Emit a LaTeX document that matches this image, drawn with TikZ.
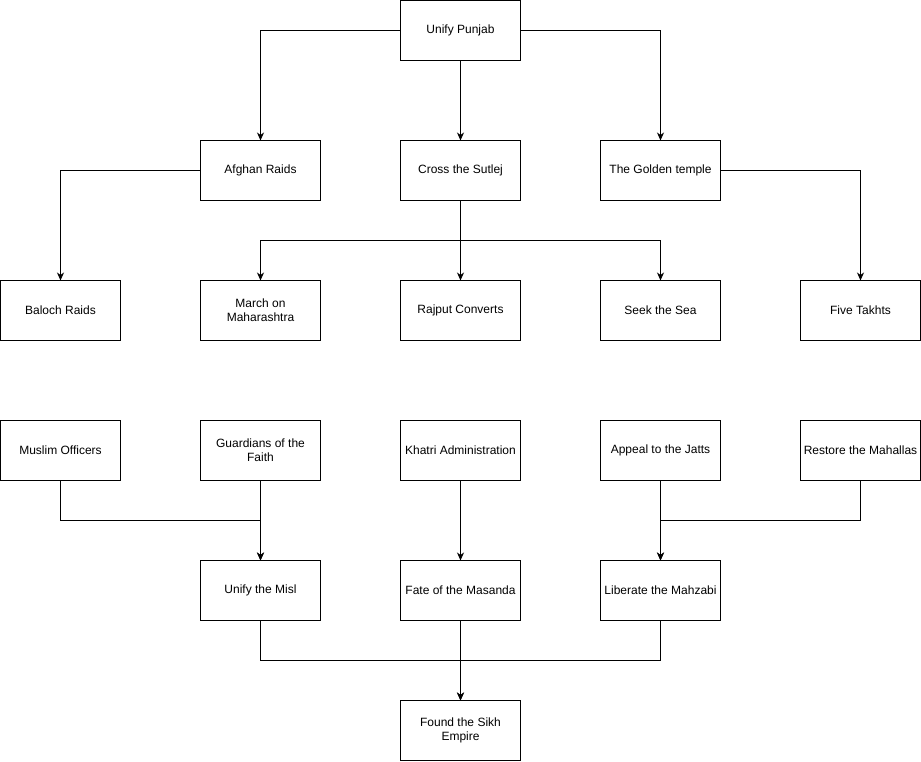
\documentclass[tikz,border=0pt]{standalone}
\usepackage{fontspec}
\setmainfont{Liberation Sans}
\usepackage{tikz}
\usetikzlibrary{arrows.meta,positioning,calc}

\begin{document}
\begin{tikzpicture}[
  x=1pt, y=1pt,
  font=\fontsize{12}{14}\selectfont,
  node distance=80pt,
  box/.style={draw, line width=1pt, align=center, inner sep=2pt, outer sep=0pt, minimum width=120pt, minimum height=60pt},
  arr/.style={-{Stealth[length=8pt,width=7pt,inset=2.5pt]}, line width=1pt},
  line/.style={line width=1pt}
]
\useasboundingbox (-0.5,0.5) rectangle (920.5,-761.5);
% top rows
\node[box] (punjab) at (460,-30) {Unify Punjab};
\node[box, below=of punjab] (sutlej) {Cross the Sutlej};
\node[box, left=of sutlej] (afghan) {Afghan Raids};
\node[box, right=of sutlej] (golden) {The Golden temple};
\node[box, below=of sutlej] (rajput) {Rajput Converts};
\node[box, left=of rajput] (march) {March on\\Maharashtra};
\node[box, left=of march] (baloch) {Baloch Raids};
\node[box, right=of rajput] (sea) {Seek the Sea};
\node[box, right=of sea] (takhts) {Five Takhts};
% bottom rows
\node[box, below=of rajput] (khatri) {Khatri Administration};
\node[box, left=of khatri] (guardians) {Guardians of the\\Faith};
\node[box, left=of guardians] (muslim) {Muslim Officers};
\node[box, right=of khatri] (jatts) {Appeal to the Jatts};
\node[box, right=of jatts] (mahallas) {Restore the Mahallas};
\node[box, below=of khatri] (masanda) {Fate of the Masanda};
\node[box, left=of masanda] (misl) {Unify the Misl};
\node[box, right=of masanda] (mahzabi) {Liberate the Mahzabi};
\node[box, below=of masanda] (empire) {Found the Sikh\\Empire};

\coordinate (sj) at ($(sutlej.south)!0.5!(rajput.north)$);
\coordinate (mj) at ($(guardians.south)!0.5!(misl.north)$);
\coordinate (lj) at ($(jatts.south)!0.5!(mahzabi.north)$);
\coordinate (fj) at ($(masanda.south)!0.5!(empire.north)$);

\draw[arr] (punjab.west) -| (afghan.north);
\draw[arr] (punjab) -- (sutlej);
\draw[arr] (punjab.east) -| (golden.north);
\draw[arr] (afghan.west) -| (baloch.north);
\draw[arr] (golden.east) -| (takhts.north);
\draw[arr] (sutlej.south) -- (sj) -| (march.north);
\draw[arr] (sutlej) -- (rajput);
\draw[arr] (sj) -| (sea.north);

\draw[arr] (muslim.south) |- (mj) -- (misl.north);
\draw[arr] (guardians) -- (misl);
\draw[arr] (khatri) -- (masanda);
\draw[arr] (jatts) -- (mahzabi);
\draw[arr] (mahallas.south) |- (lj) -- (mahzabi.north);
\draw[arr] (misl.south) |- (fj) -- (empire.north);
\draw[arr] (masanda) -- (empire);
\draw[line] (mahzabi.south) |- (fj);
\end{tikzpicture}
\end{document}
